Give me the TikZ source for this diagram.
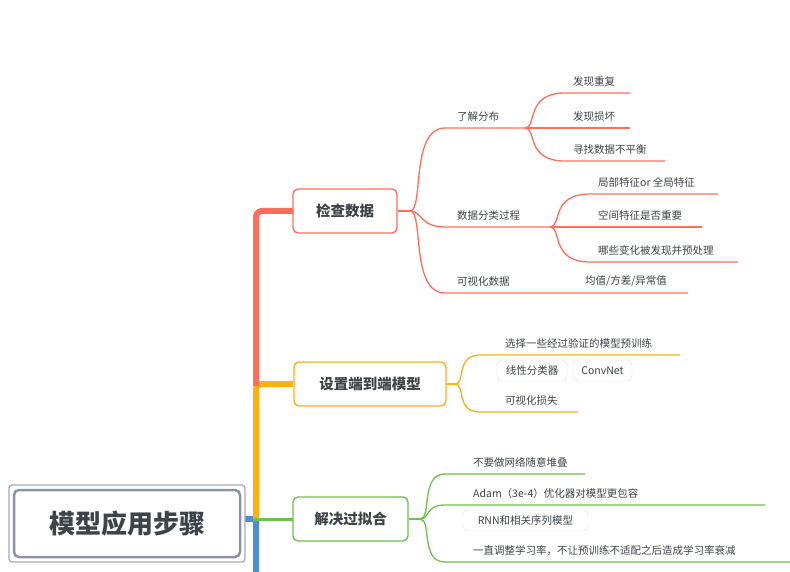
\documentclass[tikz,border=0pt]{standalone}
\usepackage{fontspec}
\setmainfont{Noto Sans CJK SC}
\definecolor{cred}{HTML}{FF6E5A}
\definecolor{corg}{HTML}{FDB10E}
\definecolor{cgrn}{HTML}{6CC24A}
\definecolor{cblu}{HTML}{4F8BD8}
\definecolor{cgry}{HTML}{8A93A5}
\definecolor{ctxt}{HTML}{3E4349}
\begin{document}
\begin{tikzpicture}[x=1pt,y=-1pt,
  lbl/.style={anchor=south west,inner sep=0pt,font=\fontsize{10.5}{12}\selectfont,text=ctxt},
  mainbox/.style={draw,line width=1.4pt,rounded corners=5pt,fill=white,text=ctxt,font=\fontsize{14.5}{17}\selectfont\bfseries,inner sep=0pt},
  tag/.style={draw=black!12,rounded corners=5pt,fill=white,text=ctxt,font=\fontsize{10.5}{12}\selectfont,inner sep=0pt,minimum height=21pt},
  br/.style={line width=1.3pt}]
\useasboundingbox (0,0) rectangle (790,572);
% trunk
\draw[cblu,line width=6pt] (256,517) -- (256,572);
\draw[corg,line width=6pt,rounded corners=6pt] (256,520) -- (256,384) -- (293,384);
\draw[cred,line width=6pt,rounded corners=6pt] (256,386) -- (256,211) -- (293,211);
\draw[cgrn,line width=3pt] (245,519) -- (293,519);
\draw[cblu,line width=6pt] (245,519) -- (253,519);
% root
\node[draw=cgry!80,line width=1.2pt,minimum width=236pt,minimum height=77pt,inner sep=0pt,rounded corners=3pt] (rootout) at (127,523.5) {};
\node[draw=cgry,line width=2.5pt,rounded corners=5pt,minimum width=226pt,minimum height=67pt,inner sep=0pt,text=ctxt,font=\fontsize{26}{30}\selectfont\bfseries] (root) at (127,523.5) {模型应用步骤};
% --- 检查数据
\node[mainbox,draw=cred,minimum width=104pt,minimum height=44pt] (a) at (345,211) {检查数据};
\coordinate (af) at (410,211);
\draw[cred,br] (a.east) -- (af);
\coordinate (p1) at (445,128); \coordinate (p2) at (445,227); \coordinate (p3) at (445,293);
\node[lbl] (a1) at ([shift={(12,-6)}]p1) {了解分布};
\node[lbl] (a2) at ([shift={(12,-6)}]p2) {数据分类过程};
\node[lbl] (a3) at ([shift={(12,-6)}]p3) {可视化数据};
\draw[cred,br] (af) .. controls (424,211) and (410,128) .. (p1) -- (525,128);
\draw[cred,br] (af) .. controls (422,211) and (420,227) .. (p2) -- (550,227);
\draw[cred,br] (af) .. controls (424,211) and (410,293) .. (p3) -- (688,293);
\node[lbl] (a3a) at (585,287) {均值/方差/异常值};
\coordinate (a1f) at (525,128);
\coordinate (q1) at (565,93); \coordinate (q2) at (565,128); \coordinate (q3) at (565,161);
\node[lbl] (a11) at ([shift={(8,-6)}]q1) {发现重复};
\node[lbl] (a12) at ([shift={(8,-6)}]q2) {发现损坏};
\node[lbl] (a13) at ([shift={(8,-6)}]q3) {寻找数据不平衡};
\draw[cred,br] (a1f) .. controls (537,128) and (525,93) .. (q1) -- (630,93);
\draw[cred,br] (a1f) -- (630,128);
\draw[cred,br] (a1f) .. controls (537,128) and (525,161) .. (q3) -- (665,161);
\coordinate (a2f) at (550,227);
\coordinate (r1) at (590,194); \coordinate (r2) at (590,227); \coordinate (r3) at (590,262);
\node[lbl] (a21) at ([shift={(8,-6)}]r1) {局部特征or 全局特征};
\node[lbl] (a22) at ([shift={(8,-6)}]r2) {空间特征是否重要};
\node[lbl] (a23) at ([shift={(8,-6)}]r3) {哪些变化被发现并预处理};
\draw[cred,br] (a2f) .. controls (562,227) and (550,194) .. (r1) -- (718,194);
\draw[cred,br] (a2f) -- (702,227);
\draw[cred,br] (a2f) .. controls (562,227) and (550,262) .. (r3) -- (738,262);
% --- 设置端到端模型
\node[mainbox,draw=corg,minimum width=152pt,minimum height=44pt] (b) at (370,384) {设置端到端模型};
\coordinate (bf) at (455,384);
\draw[corg,br] (b.east) -- (bf);
\coordinate (s1) at (480,355); \coordinate (s3) at (480,412);
\node[lbl] (b1) at ([shift={(25,-6)}]s1) {选择一些经过验证的模型预训练};
\node[lbl] (b3) at ([shift={(25,-6)}]s3) {可视化损失};
\draw[corg,br] (bf) .. controls (466,384) and (455,355) .. (s1) -- (680,355);
\draw[corg,br] (bf) .. controls (466,384) and (455,412) .. (s3) -- (578,412);
\node[tag,minimum width=70pt] (b2a) at (532,370.5) {线性分类器};
\node[tag,minimum width=59pt] (b2b) at (602.5,370.5) {ConvNet};
% --- 解决过拟合
\node[mainbox,draw=cgrn,minimum width=115pt,minimum height=44pt] (c) at (350.5,519) {解决过拟合};
\coordinate (cf) at (420,519);
\draw[cgrn,br] (c.east) -- (cf);
\coordinate (t1) at (445,474); \coordinate (t2) at (445,505); \coordinate (t4) at (445,562);
\node[lbl] (c1) at ([shift={(28,-6)}]t1) {不要做网络随意堆叠};
\node[lbl] (c2) at ([shift={(28,-6)}]t2) {Adam（3e-4）优化器对模型更包容};
\node[lbl] (c4) at ([shift={(28,-6)}]t4) {一直调整学习率，不让预训练不适配之后造成学习率衰减};
\draw[cgrn,br] (cf) .. controls (432,519) and (420,474) .. (t1) -- (585,474);
\draw[cgrn,br] (cf) .. controls (430,519) and (425,505) .. (t2) -- (765,505);
\draw[cgrn,br] (cf) .. controls (432,519) and (420,562) .. (t4) -- (790,562);
\node[tag,minimum width=125pt] (c3) at (525.5,520.5) {RNN和相关序列模型};
\end{tikzpicture}
\end{document}
